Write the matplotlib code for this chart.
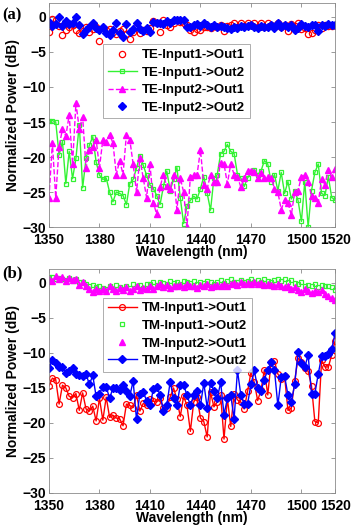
import numpy as np
import matplotlib
matplotlib.use("Agg")
import matplotlib.pyplot as plt

plt.rcParams['font.family'] = ['Liberation Sans', 'DejaVu Sans']
plt.rcParams['font.weight'] = 'bold'

# wavelength grid (nm)
wl = np.arange(1350, 1521, 2)

# ---- panel (a): TE ----
te_in1_out1 = [
    -2.2, -0.3, -0.5, -1.3, -2.6, -1.8, -1.5, -1.2, -1.9, -2.3,
    -2.0, -1.5, -2.2, -1.7, -1.5, -3.4, -1.6, -1.8, -1.7, -2.2,
    -2.5, -2.0, -1.7, -2.5, -3.2, -2.1, -1.5, -2.3, -1.8, -2.0,
    -1.6, -0.6, -0.9, -2.2, -0.5, -1.2, -1.4, -0.9, -0.5, -0.7,
    -0.8, -1.2, -1.9, -2.1, -1.7, -1.9, -1.4, -1.5, -1.6, -1.3,
    -1.5, -1.2, -2.0, -1.3, -1.1, -0.9, -1.4, -0.9, -1.3, -0.8,
    -1.2, -0.8, -1.5, -0.9, -1.4, -0.8, -1.2, -1.3, -0.8, -1.5,
    -1.2, -2.0, -1.0, -1.3, -0.9, -1.7, -1.6, -2.4, -2.3, -1.9,
    -1.2, -1.6, -1.2, -1.3, -1.3, -1.2]
te_in1_out2 = [
    -14.8, -14.8, -15.0, -19.7, -17.8, -23.8, -19.2, -23.1, -20.2, -15.4,
    -24.4, -20.2, -18.3, -17.1, -20.7, -22.6, -23.2, -23.0, -25.0, -26.4,
    -25.0, -25.2, -25.5, -26.8, -23.8, -23.2, -21.6, -19.8, -21.2, -22.6,
    -24.0, -24.5, -25.5, -26.8, -24.2, -22.0, -24.8, -23.2, -21.5, -25.8,
    -29.5, -27.0, -26.2, -25.6, -26.0, -24.5, -22.8, -25.2, -27.6, -23.0,
    -22.5, -19.5, -19.2, -18.2, -19.2, -19.5, -22.5, -23.0, -24.2, -23.0,
    -22.2, -21.8, -22.5, -22.0, -20.5, -21.0, -23.5, -22.5, -24.8, -22.2,
    -25.2, -23.5, -26.0, -24.8, -26.2, -29.2, -23.5, -30.0, -24.8, -22.2,
    -21.0, -25.2, -25.5, -22.8, -25.8, -26.1]
te_in2_out1 = [
    -25.8, -18.0, -25.8, -18.5, -16.0, -17.0, -14.0, -21.0, -12.3, -16.0,
    -14.3, -21.5, -19.0, -18.5, -17.5, -21.5, -17.5, -17.8, -16.8, -18.0,
    -22.5, -20.5, -22.5, -16.8, -17.5, -21.0, -25.0, -20.2, -23.0, -25.8,
    -21.0, -26.5, -28.2, -24.3, -22.5, -24.2, -24.5, -22.5, -27.5, -23.0,
    -25.0, -30.0, -22.8, -22.5, -22.5, -19.0, -24.0, -24.5, -22.5, -23.5,
    -23.5, -20.8, -21.0, -23.8, -21.0, -22.5, -22.8, -24.3, -23.0, -22.0,
    -22.0, -22.2, -23.0, -22.3, -23.0, -22.8, -23.0, -24.5, -25.0, -27.5,
    -26.2, -26.5, -28.3, -25.0, -24.8, -22.8, -22.5, -23.5, -25.5, -25.8,
    -26.5, -23.2, -24.0, -21.8, -22.8, -21.7]
te_in2_out2 = [
    -0.7, -1.3, -1.0, 0.0, -1.3, -0.6, -1.0, -0.9, 0.0, -1.2,
    -2.5, -1.8, -1.5, -0.9, -1.6, -1.9, -1.5, -2.3, -2.6, -1.8,
    -0.9, -2.3, -2.8, -1.0, -2.2, -1.7, -0.9, -1.7, -2.0, -1.6,
    -2.2, -0.7, -0.8, -0.9, -1.0, -0.6, -0.8, -0.5, -0.4, -0.5,
    -0.4, -1.4, -1.5, -1.2, -1.0, -1.3, -0.8, -1.2, -1.5, -1.2,
    -1.4, -1.3, -1.5, -1.6, -1.7, -1.4, -1.6, -1.3, -1.5, -1.3,
    -1.2, -1.4, -1.6, -1.3, -1.5, -1.4, -1.2, -1.6, -0.9, -1.4,
    -1.2, -1.5, -1.2, -1.8, -1.6, -1.0, -1.3, -1.5, -1.2, -1.1,
    -2.0, -1.2, -1.3, -1.0, -1.2, -1.2]

# ---- panel (b): TM ----
tm_in1_out1 = [
    -14.7, -13.6, -13.8, -17.3, -14.6, -15.0, -16.2, -16.4, -15.8, -18.2,
    -15.7, -18.0, -18.3, -17.6, -19.7, -16.5, -19.6, -16.3, -19.2, -18.9,
    -19.3, -19.4, -20.4, -17.3, -17.5, -17.8, -16.0, -18.3, -17.2, -17.5,
    -16.6, -16.9, -17.0, -16.5, -17.8, -17.8, -16.3, -15.0, -16.6, -19.1,
    -16.2, -17.5, -21.2, -17.0, -16.3, -19.3, -19.8, -22.0, -15.6, -17.7,
    -17.0, -16.0, -22.3, -16.5, -20.5, -15.8, -16.7, -17.0, -18.0, -15.5,
    -12.8, -14.2, -16.8, -15.3, -12.4, -16.0, -11.3, -11.2, -13.0, -13.7,
    -13.3, -18.2, -17.9, -14.0, -10.7, -11.3, -12.2, -12.6, -14.7, -19.8,
    -20.0, -11.0, -12.0, -12.0, -10.3, -8.3]
tm_in1_out2 = [
    0.8, 0.9, 0.6, 0.7, 0.5, 0.4, 0.7, 0.3, 0.5, 0.2,
    0.1, -0.2, -0.5, -0.3, -0.6, -0.4, -0.7, -0.8, -0.5, -0.8,
    -0.3, -0.6, -0.9, -0.5, -0.7, -0.2, -0.5, -0.3, -0.7, -0.2,
    -0.1, 0.1, -0.3, 0.2, 0.0, -0.2, 0.3, 0.0, 0.2, -0.1,
    0.3, 0.1, 0.0, 0.3, -0.2, 0.2, 0.0, 0.3, 0.1, -0.1,
    0.2, 0.4, 0.0, 0.3, 0.5, 0.2, 0.1, 0.4, 0.2, 0.3,
    0.5, 0.1, 0.4, 0.2, 0.5, 0.3, 0.1, 0.4, 0.6, 0.3,
    0.5, 0.2, 0.4, 0.0, -0.2, 0.1, -0.4, -0.3, -0.5, -0.1,
    -0.6, -0.3, -0.5, -0.4, -0.6, -1.0]
tm_in2_out1 = [
    0.6, 0.3, 1.0, 0.5, 0.8, 0.3, 0.7, 0.4, 0.6, -0.3,
    0.2, -0.5, -0.8, -1.3, -0.9, -1.2, -0.8, -1.1, -0.5, -0.9,
    -1.2, -0.7, -1.0, -0.6, -1.1, -0.8, -0.5, -1.0, -0.7, -0.9,
    -0.4, -0.8, -0.5, -0.2, -0.6, -0.3, -0.7, -0.4, -0.5, -0.3,
    -0.6, -0.2, -0.5, -0.4, -0.7, -0.3, -0.5, -0.2, -0.6, -0.4,
    -0.3, -0.5, -0.1, -0.4, -0.2, 0.0, -0.3, 0.1, -0.2, 0.0,
    -0.1, 0.1, -0.2, 0.0, -0.3, -0.1, -0.3, -0.5, -0.2, -0.4,
    -0.6, -0.4, -0.8, -0.6, -1.0, -1.3, -0.9, -1.2, -1.5, -1.1,
    -1.3, -1.0, -1.6, -1.9, -2.1, -2.4]
tm_in2_out2 = [
    -12.1, -11.0, -11.4, -12.0, -12.0, -12.8, -12.6, -12.2, -13.0, -13.2,
    -13.3, -13.0, -14.5, -13.2, -16.2, -15.8, -14.8, -14.8, -16.5, -15.0,
    -15.0, -15.3, -14.6, -15.5, -16.2, -14.0, -19.5, -15.8, -15.6, -16.8,
    -17.5, -15.2, -14.8, -16.0, -18.3, -17.5, -14.1, -16.4, -17.5, -14.6,
    -14.6, -16.0, -17.5, -16.0, -15.5, -17.5, -14.3, -17.8, -14.3, -15.4,
    -16.5, -14.2, -18.8, -16.5, -16.0, -19.4, -12.5, -16.0, -17.3, -17.3,
    -14.5, -12.5, -15.0, -15.4, -13.8, -12.4, -11.3, -12.5, -17.5, -13.5,
    -13.3, -16.0, -17.0, -14.5, -9.8, -11.5, -12.0, -10.3, -15.8, -15.8,
    -13.0, -10.5, -10.5, -10.2, -9.5, -7.2]

GREEN = (0.2, 0.95, 0.2)
MAG = (1.0, 0.0, 1.0)
EDGE = '#8a8a8a'

fig = plt.figure(figsize=(3.51, 5.25), dpi=100)
ax_a = fig.add_axes([0.1396, 0.5676, 0.815, 0.4267])
ax_b = fig.add_axes([0.1396, 0.0610, 0.815, 0.4267])

# (a)
ax_a.plot(wl, te_in1_out1, ls='none', marker='o', ms=4.5, mfc='none', mec='r',
          mew=0.9, label='TE-Input1->Out1')
ax_a.plot(wl, te_in1_out2, '-', color=GREEN, lw=1.0, marker='s', ms=3.4,
          mfc='none', mec=GREEN, mew=0.9, label='TE-Input1->Out2')
ax_a.plot(wl, te_in2_out1, '--', color=MAG, lw=1.0, marker='^', ms=4.2,
          mfc=MAG, mec=MAG, label='TE-Input2->Out1')
ax_a.plot(wl, te_in2_out2, ls='none', marker='D', ms=3.6, mfc='b', mec='b',
          label='TE-Input2->Out2')

# (b)
ax_b.plot(wl, tm_in1_out1, '-', color='r', lw=1.0, marker='o', ms=4.2,
          mfc='none', mec='r', mew=0.9, label='TM-Input1->Out1')
ax_b.plot(wl, tm_in1_out2, ls='none', marker='s', ms=3.4, mfc='none',
          mec=GREEN, mew=0.9, label='TM-Input1->Out2')
ax_b.plot(wl, tm_in2_out1, ls='none', marker='^', ms=4.2, mfc=MAG, mec=MAG,
          label='TM-Input2->Out1')
ax_b.plot(wl, tm_in2_out2, '-', color='b', lw=1.0, marker='D', ms=3.6,
          mfc='b', mec='b', label='TM-Input2->Out2')

for ax, anchor in ((ax_a, (0.19, 0.815)), (ax_b, (0.19, 0.872))):
    ax.set_xlim(1350, 1520)
    ax.set_ylim(-30, 2)
    ax.set_xticks([1350, 1380, 1410, 1440, 1470, 1500, 1520])
    ax.set_yticks([-30, -25, -20, -15, -10, -5, 0])
    ax.tick_params(direction='in', top=True, right=True, length=3,
                   width=0.6, color=EDGE, labelsize=10)
    ax.tick_params(axis='x', pad=4)
    ax.tick_params(axis='y', pad=2)
    for lab in ax.get_xticklabels() + ax.get_yticklabels():
        lab.set_fontweight('bold')
    for sp in ax.spines.values():
        sp.set_color(EDGE)
        sp.set_linewidth(0.6)
    ax.set_xlabel('Wavelength (nm)', fontsize=10, fontweight='bold', labelpad=-1)
    ax.set_ylabel('Normalized Power (dB)', fontsize=10, fontweight='bold',
                  labelpad=2)
    leg = ax.legend(loc='upper left', bbox_to_anchor=anchor,
                    prop={'weight': 'bold', 'size': 9.5}, frameon=True,
                    fancybox=False, edgecolor=EDGE, handlelength=2.2,
                    handletextpad=0.4, borderpad=0.35, labelspacing=0.4,
                    borderaxespad=0)
    leg.get_frame().set_linewidth(0.6)

fig.text(0.005, 0.985, '(a)', family='Liberation Serif', fontweight='bold',
         fontsize=12, va='top')
fig.text(0.005, 0.495, '(b)', family='Liberation Serif', fontweight='bold',
         fontsize=12, va='top')

fig.savefig('out.png', dpi=100)
